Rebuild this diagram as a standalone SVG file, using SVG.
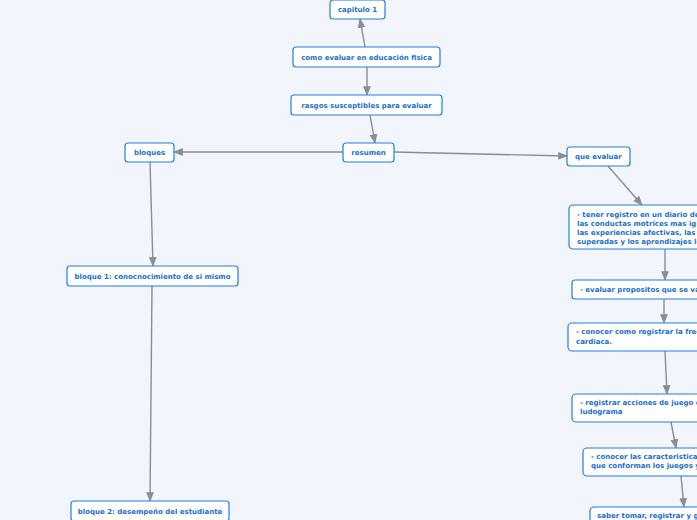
<svg xmlns="http://www.w3.org/2000/svg" width="697" height="520" viewBox="0 0 697 520">
<defs>
<marker id="a" viewBox="0 0 10 10" refX="9" refY="5" markerWidth="7" markerHeight="7" orient="auto"><path d="M0,1 L10,5 L0,9 Z" fill="#8a8d94"/></marker>
<style>
.n rect{fill:#fff;stroke:#1f80e6;stroke-width:1.2}
.n text{font-family:"DejaVu Sans",sans-serif;font-weight:bold;font-size:7px;fill:#1b6fd0}
.c line{stroke:#8a8d94;stroke-width:1.4;marker-end:url(#a)}
</style>
</defs>
<rect width="697" height="520" fill="#f3f5fc"/>
<g class="c">
<line x1="365" y1="47" x2="360" y2="19"/>
<line x1="367" y1="67" x2="367" y2="95"/>
<line x1="370" y1="115" x2="375" y2="143"/>
<line x1="343" y1="152" x2="174" y2="152"/>
<line x1="394" y1="152" x2="567" y2="156"/>
<line x1="608" y1="166" x2="642" y2="205"/>
<line x1="665" y1="249" x2="665" y2="280"/>
<line x1="664" y1="299" x2="664" y2="323"/>
<line x1="665" y1="351" x2="667" y2="394"/>
<line x1="671" y1="422" x2="676" y2="448"/>
<line x1="681" y1="476" x2="684" y2="507"/>
<line x1="150" y1="162" x2="153" y2="266"/>
<line x1="152" y1="286" x2="150" y2="501"/>
</g>
<g id="capitulo" class="n"><rect x="330" y="0" width="55" height="19" rx="3"/><text x="357.5" y="12" text-anchor="middle">capitulo 1</text></g>
<g id="como" class="n"><rect x="293" y="47" width="147" height="20" rx="3"/><text x="366.5" y="60" text-anchor="middle">como evaluar en educación fisica</text></g>
<g id="rasgos" class="n"><rect x="291" y="95" width="151" height="20" rx="3"/><text x="366.5" y="108" text-anchor="middle">rasgos susceptibles para evaluar</text></g>
<g id="resumen" class="n"><rect x="343" y="143" width="51" height="19" rx="3"/><text x="368.5" y="155" text-anchor="middle">resumen</text></g>
<g id="bloques" class="n"><rect x="125" y="143" width="49" height="19" rx="3"/><text x="149.5" y="155" text-anchor="middle">bloques</text></g>
<g id="que" class="n"><rect x="567" y="147" width="63" height="19" rx="3"/><text x="575" y="159">que evaluar</text></g>
<g id="tener" class="n"><rect x="569" y="205" width="140" height="44" rx="4"/><text x="577" y="217">- tener registro en un diario de</text><text x="577" y="226">las conductas motrices mas ig</text><text x="577" y="235">las experiencias afectivas, las</text><text x="577" y="244">superadas y los aprendizajes lo</text></g>
<g id="evaluar" class="n"><rect x="572" y="280" width="140" height="19" rx="3"/><text x="580" y="292">- evaluar propositos que se va</text></g>
<g id="conocer1" class="n"><rect x="568" y="323" width="140" height="28" rx="4"/><text x="576" y="334">- conocer como registrar la frec</text><text x="576" y="344">cardiaca.</text></g>
<g id="registrar" class="n"><rect x="572" y="394" width="140" height="28" rx="4"/><text x="580" y="405">- registrar acciones de juego e</text><text x="580" y="414">ludograma</text></g>
<g id="conocer2" class="n"><rect x="583" y="448" width="140" height="28" rx="4"/><text x="591" y="459">- conocer las caracteristica</text><text x="591" y="468">que conforman los juegos y</text></g>
<g id="saber" class="n"><rect x="590" y="507" width="140" height="25" rx="4"/><text x="597" y="518">saber tomar, registrar y g</text></g>
<g id="bloque1" class="n"><rect x="67" y="266" width="171" height="20" rx="3"/><text x="152.5" y="279" text-anchor="middle">bloque 1: conocnocimiento de si mismo</text></g>
<g id="bloque2" class="n"><rect x="71" y="501" width="158" height="20" rx="3"/><text x="150" y="514" text-anchor="middle">bloque 2: desempeño del estudiante</text></g>
</svg>
